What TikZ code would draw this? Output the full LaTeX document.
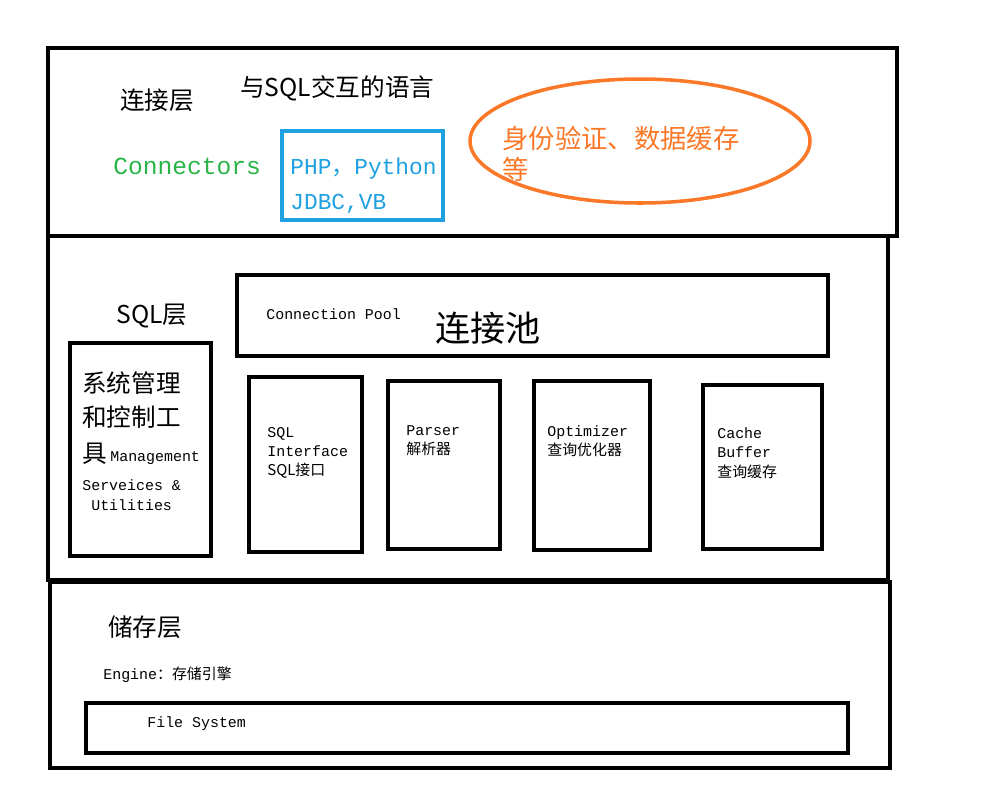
\documentclass[tikz,border=0pt]{standalone}
\usepackage{fontspec}
\setmainfont{Noto Sans CJK SC}
\newfontfamily\monofont{Liberation Mono}
\newfontfamily\cjk{Noto Sans CJK SC}
\usetikzlibrary{positioning}
\definecolor{connblue}{RGB}{30,160,225}
\definecolor{connorange}{RGB}{250,120,40}
\definecolor{conngreen}{RGB}{40,180,70}
\tikzset{
  layer/.style={draw=black, line width=2pt},
  unit/.style={draw=black, line width=2pt},
  label/.style={anchor=west, inner sep=0pt, align=left, font=\monofont\fontsize{8.5}{11}\selectfont}
}
\begin{document}
\begin{tikzpicture}[x=0.02cm, y=-0.02cm]
  \useasboundingbox (0,0) rectangle (982,795);
  % layers
  \draw[layer] (48,48) rectangle (897,236);
  \draw[layer] (48,236) rectangle (888,580);
  \draw[layer] (50,582) rectangle (890,768);

  % connection layer
  \node[label, font=\fontsize{14}{16}\selectfont] (conntitle) at (120,100) {连接层};
  \node[label, font=\fontsize{14}{16}\selectfont] (lang) at (240,88) {与SQL交互的语言};
  \node[label, text=conngreen, font=\monofont\fontsize{14}{16}\selectfont] (connectors) at (113,166) {Connectors};
  \draw[connblue, line width=2pt] (282,131) rectangle (443,220);
  \node[label, text=connblue, font=\monofont\fontsize{13}{20}\selectfont] (clients) at (290,186) {PHP{\cjk ，}Python\\JDBC,VB};
  \draw[connorange, line width=2pt] (640,141) ellipse (170 and 62);
  \node[label, text=connorange, font=\fontsize{15}{18}\selectfont] (auth) at (502,154) {身份验证、数据缓存\\等};

  % sql layer
  \node[label, font=\fontsize{14}{16}\selectfont] (sqltitle) at (116,316) {SQL层};
  \draw[unit] (237,275) rectangle (828,356);
  \node[label] (pooltxt) at (266,314) {Connection Pool};
  \node[label, font=\fontsize{20}{22}\selectfont] (pool) at (435,328) {连接池};
  \draw[unit] (70,343) rectangle (211,556);
  \node[label, font=\fontsize{14}{19}\selectfont] (mgmt) at (82,400) {系统管理\\和控制工};
  \node[label, font=\fontsize{14}{19}\selectfont] (mgmtend) at (82,454) {具};
  \node[label] (mgmttxt) at (110,458) {Management};
  \node[label, align=center] (mgmtsub) at (82,495) {Serveices \&\\Utilities};
  \draw[unit] (249,377) rectangle (362,552);
  \node[label] (iface) at (267,453) {SQL\\Interface\\{\cjk SQL接口}};
  \draw[unit] (388,381) rectangle (500,549);
  \node[label] (parser) at (406,441) {Parser\\{\cjk 解析器}};
  \draw[unit] (534,381) rectangle (650,550);
  \node[label] (optim) at (547,441) {Optimizer\\ {\cjk 查询优化器}};
  \draw[unit] (703,385) rectangle (822,549);
  \node[label] (cache) at (717,453) {Cache\\Buffer\\{\cjk 查询缓存}};

  % storage layer
  \node[label, font=\fontsize{14}{16}\selectfont] (storetitle) at (108,627) {储存层};
  \node[label] (engine) at (103,675) {Engine{\cjk ：存储引擎}};
  \draw[unit] (86,703) rectangle (848,753);
  \node[label] (fs) at (147,724) {File System};
\end{tikzpicture}
\end{document}
